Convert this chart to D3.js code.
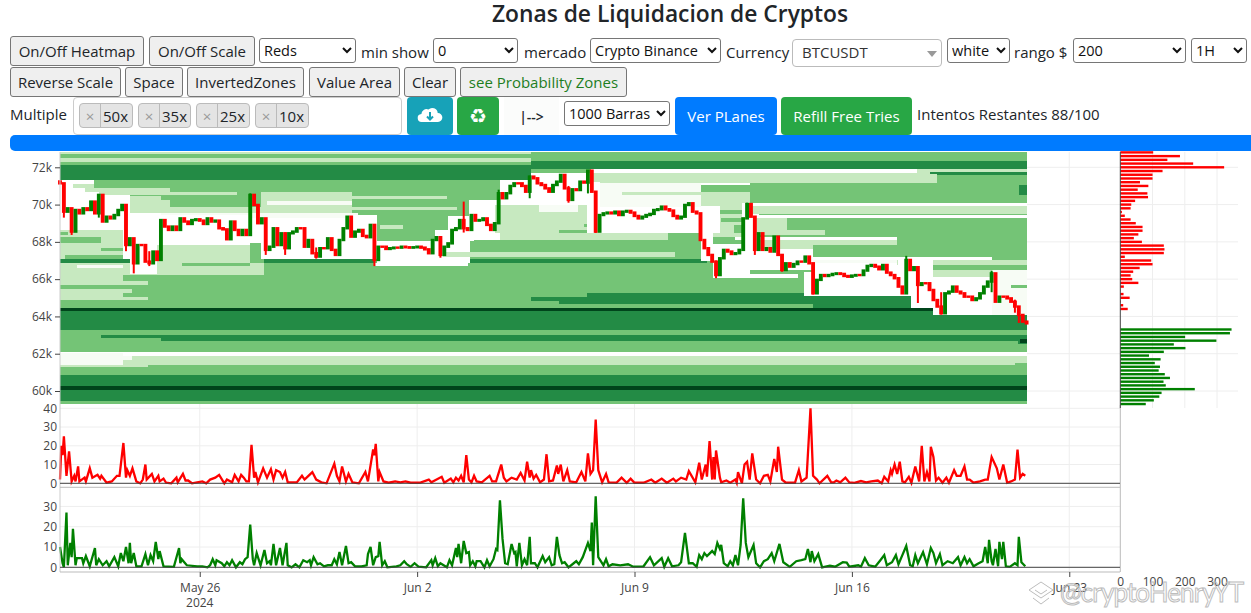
<!DOCTYPE html>
<html>
<head>
<meta charset="utf-8">
<title>Zonas de Liquidacion de Cryptos</title>
<script src="https://cdn.jsdelivr.net/npm/d3@7.9.0/dist/d3.min.js"></script>
<style>
  html, body { margin: 0; width: 1251px; height: 613px; overflow: hidden; background: #fff; }
  body { font-family: "Open Sans", sans-serif; font-size: 15px; color: #212529; }
  .a { position: absolute; box-sizing: border-box; white-space: nowrap; }
  h1 { position: absolute; left: 0; top: -1px; width: 1340px; margin: 0; text-align: center; font-size: 22.8px; line-height: 30px; font-weight: 600; }
  button.a { background: #efefef; border: 1px solid #767676; border-radius: 3px; padding: 0; font: 15px "Open Sans", sans-serif; color: #212529; }
  select.a { background: #fff; border: 1px solid #767676; border-radius: 3px; padding: 0; font: 14.500px "Open Sans", sans-serif; color: #111; }
  .lbl { line-height: 24px; }
  .solid { border: 0 !important; border-radius: 4px !important; color: #fff !important; }
  .tag { background: #e4e4e4; border: 1px solid #bbb; border-radius: 4px; height: 25px; line-height: 24px; font-size: 15px; }
  .tag i { position: absolute; left: 0; top: 0; width: 20px; height: 23px; border-right: 1px solid #bbb; text-align: center; font-style: normal; color: #999; }
  .tag b { position: absolute; left: 23px; top: 0; font-weight: 400; }
  svg { position: absolute; left: 0; top: 0; }
  svg text { font-family: "Open Sans", sans-serif; }
</style>
</head>
<body>
<h1>Zonas de Liquidacion de Cryptos</h1>

<button class="a" style="left:10px;top:36px;width:134px;height:30px">On/Off Heatmap</button>
<button class="a" style="left:149px;top:36px;width:106px;height:30px">On/Off Scale</button>
<select class="a" style="left:259px;top:38px;width:97px;height:25px"><option>Reds</option></select>
<span class="a lbl" style="left:361px;top:40px">min show</span>
<select class="a" style="left:433px;top:38px;width:85px;height:25px"><option>0</option></select>
<span class="a lbl" style="left:524px;top:40px">mercado</span>
<select class="a" style="left:590px;top:38px;width:131px;height:25px"><option>Crypto Binance</option></select>
<span class="a lbl" style="left:726px;top:40px">Currency</span>
<div class="a" style="left:792px;top:39px;width:150px;height:28px;border:1px solid #bbb;border-radius:4px;padding:2px 0 0 9px;color:#333">BTCUSDT
  <span class="a" style="left:134px;top:11px;border:5px solid transparent;border-top:6px solid #999"></span></div>
<select class="a" style="left:947px;top:38px;width:63px;height:25px"><option>white</option></select>
<span class="a lbl" style="left:1014px;top:40px">rango $</span>
<select class="a" style="left:1073px;top:38px;width:113px;height:25px"><option>200</option></select>
<select class="a" style="left:1191px;top:38px;width:56px;height:25px"><option>1H</option></select>

<button class="a" style="left:10px;top:67px;width:111px;height:30px">Reverse Scale</button>
<button class="a" style="left:125px;top:67px;width:58px;height:30px">Space</button>
<button class="a" style="left:187px;top:67px;width:117px;height:30px">InvertedZones</button>
<button class="a" style="left:309px;top:67px;width:91px;height:30px">Value Area</button>
<button class="a" style="left:404px;top:67px;width:52px;height:30px">Clear</button>
<button class="a" style="left:460px;top:67px;width:167px;height:30px;color:#1e7e1e">see Probability Zones</button>

<span class="a lbl" style="left:10px;top:102px">Multiple</span>
<div class="a" style="left:73px;top:97px;width:329px;height:38px;border:1px solid #ccc;border-radius:4px;background:#fff"></div>
<div class="a tag" style="left:79px;top:103px;width:54px"><i>×</i><b>50x</b></div>
<div class="a tag" style="left:138px;top:103px;width:53px"><i>×</i><b>35x</b></div>
<div class="a tag" style="left:196px;top:103px;width:54px"><i>×</i><b>25x</b></div>
<div class="a tag" style="left:255px;top:103px;width:54px"><i>×</i><b>10x</b></div>
<button class="a solid" style="left:407px;top:97px;width:46px;height:38px;background:#17a2b8">
  <svg width="46" height="38"><path d="M15 25a4 4 0 0 1-.6-8 5 5 0 0 1 7-4.5 5.5 5.5 0 0 1 9.300 3.500 4.500 4.500 0 0 1 .3 9z" fill="#fff"/><path d="M23 15v7M20 19.500l3 3 3-3" stroke="#17a2b8" stroke-width="2" fill="none"/></svg>
</button>
<button class="a solid" style="left:457px;top:97px;width:42px;height:38px;background:#28a745;font:20px 'DejaVu Sans'">♻</button>
<div class="a" style="left:504px;top:97px;width:55px;height:38px;background:#fbfcfb;text-align:center;line-height:40px;font-weight:600;font-size:14px">|--&gt;</div>
<select class="a" style="left:564px;top:101px;width:106px;height:25px"><option>1000 Barras</option></select>
<button class="a solid" style="left:675px;top:97px;width:102px;height:38px;background:#007bff">Ver PLanes</button>
<button class="a solid" style="left:781px;top:97px;width:131px;height:38px;background:#28a745">Refill Free Tries</button>
<span class="a lbl" style="left:917px;top:102px">Intentos Restantes 88/100</span>

<div class="a" style="left:10px;top:135px;width:1260px;height:16px;background:#007bff;border-radius:5px"></div>

<svg id="chart" width="1251" height="613"></svg>

<script>
// candles are sampled every 3 hours, prices in thousands of USD
const stepHours = 3;
const closes = [
  71.14, 69.62, 69.80, 68.55, 69.71, 69.53, 69.80, 69.71, 70.16, 69.53, 70.52, 69.09, 69.35, 69.26, 69.44, 69.71, 69.98,
  67.83, 68.19, 66.85, 67.83, 67.83, 66.94, 66.85, 67.48, 67.03, 69.17, 68.82, 68.64, 68.82, 68.64, 69.26, 69.09, 68.96,
  69.17, 69.21, 69.14, 68.96, 69.26, 69.09, 69.14, 68.73, 68.67, 68.14, 69.09, 68.64, 68.37, 68.64, 68.37, 70.52, 69.98,
  69.00, 69.26, 67.57, 67.74, 68.73, 67.83, 68.46, 67.66, 68.46, 68.55, 68.73, 68.73, 67.74, 68.10, 67.39, 67.21, 67.66,
  67.66, 68.19, 67.57, 67.30, 68.10, 68.73, 69.35, 68.28, 68.55, 68.64, 68.32, 68.25, 68.91, 67.03, 67.74, 67.74, 67.62,
  67.66, 67.69, 67.69, 67.74, 67.71, 67.69, 67.71, 67.74, 67.69, 67.60, 67.39, 68.10, 68.25, 67.30, 67.74, 67.92, 68.64,
  68.73, 69.17, 68.73, 68.64, 69.44, 69.14, 69.17, 69.26, 68.91, 68.64, 69.00, 70.61, 70.34, 70.61, 71.00, 71.14, 71.14,
  71.00, 70.69, 71.50, 71.41, 71.14, 71.05, 70.87, 70.69, 71.05, 71.23, 71.59, 70.87, 70.25, 70.82, 70.78, 71.23, 71.18,
  71.82, 70.69, 68.55, 69.44, 69.53, 69.57, 69.53, 69.62, 69.44, 69.62, 69.66, 69.57, 69.39, 69.26, 69.35, 69.44, 69.50,
  69.71, 69.75, 69.89, 69.75, 69.68, 69.39, 69.26, 69.35, 69.98, 70.07, 69.62, 69.53, 68.10, 67.66, 67.30, 66.94, 66.22,
  67.12, 67.57, 67.48, 67.35, 67.39, 67.57, 69.26, 70.03, 69.35, 67.57, 68.46, 67.57, 67.66, 67.48, 68.28, 67.30, 66.49,
  66.85, 66.67, 66.81, 66.94, 66.94, 67.21, 66.85, 65.24, 65.96, 66.22, 66.17, 66.22, 66.28, 66.31, 66.28, 66.17, 66.13,
  66.19, 66.22, 66.22, 66.46, 66.71, 66.76, 66.67, 66.53, 66.76, 66.35, 66.22, 66.05, 65.60, 65.24, 67.03, 66.49, 66.64,
  65.69, 65.78, 65.78, 65.42, 64.88, 64.53, 64.17, 65.24, 65.33, 65.60, 65.33, 65.24, 65.06, 65.06, 64.88, 64.97, 65.24,
  65.60, 65.87, 66.31, 64.79, 65.06, 65.06, 64.97, 64.79, 64.53, 64.08, 63.72, 63.63
];
// [candle index, low, high] where the wick sticks out of the body
const wicks = [
  [1, 69.3, 70.0], [3, 68.37, 69.8], [10, 69.3, 70.57], [17, 67.5, 69.0], [19, 66.31, 67.9], [23, 66.7, 67.5], [26, 68.8, 69.2],
  [49, 68.4, 70.6], [53, 67.3, 68.3], [58, 67.3, 68.5], [66, 67.1, 67.7], [81, 66.7, 68.0], [98, 67.15, 68.3], [104, 68.5, 70.16],
  [113, 69.7, 70.8], [121, 70.34, 71.55], [131, 70.1, 71.0], [136, 70.6, 71.85], [138, 68.48, 69.8], [169, 66.05, 67.0],
  [177, 69.3, 70.1], [179, 67.3, 68.6], [186, 66.4, 67.2], [194, 65.18, 66.2], [218, 65.4, 67.25], [221, 64.72, 66.6],
  [227, 64.1, 65.3], [240, 65.3, 66.45], [246, 64.2, 64.9], [247, 63.65, 64.5]
];

// [hour, BTC]
const sellVolume = [
  [0,2],[1,20],[2,15],[3,25],[5,4],[7,17],[9,1],[11,4],[12,1],[14,9],[15,1],[19,3],[20,1],[23,8],[25,3],[29,4.5],[31,2.5],[32,4],[36,.3],[40,1],
  [44,4],[46,4],[49,21.5],[51,3],[52,7],[54,4],[56,8],[59,1],[62,0],[64,2],[66,10],[67,2],[71,5],[73,1],[76,4],[77,1],[80,2.5],[82,.3],[86,0],[90,3],
  [91,.5],[95,5],[97,1.5],[99,1.5],[102,0],[106,.5],[110,1],[113,0],[116,2],[120,3],[123,4.5],[127,0],[129,2],[133,.5],[135,4.5],[138,1],[140,4.5],[142,3],[144,1],[146,1],
  [148,20.5],[150,3],[151,6],[153,.5],[157,8],[160,3],[163,7.5],[165,2],[167,7],[170,6],[172,3],[174,6],[176,.5],[183,.5],[187,4],[189,2],[192,4],[195,6],[198,2],[202,.5],
  [206,0],[212,10.5],[214,4],[216,1],[218,9],[221,1],[223,5],[226,.5],[231,0],[236,6],[238,1],[242,18],[243,15],[244,21],[246,1],[247,6],[250,1],[254,.3],[259,1],[263,.5],
  [267,1],[271,.3],[278,.3],[285,2],[287,.5],[295,3.5],[297,.3],[302,2.5],[304,.5],[306,3],[308,1.5],[310,4],[312,.5],[314,15],[316,2],[318,.5],[320,4],[322,1],[326,.5],[332,4],
  [334,1],[337,1],[341,10],[343,3],[345,1],[349,3],[353,2],[356,5.5],[359,1.5],[361,11.5],[363,3],[364,7],[366,2.5],[368,4.5],[371,.5],[374,2],[376,15.5],[378,1],[381,1.5],[384,9.5],
  [385,5],[387,10],[389,1],[392,7],[394,1],[399,.5],[403,6],[406,1],[408,16],[410,5],[412,7],[414,34],[416,7],[419,.5],[422,5],[424,.5],[430,.3],[434,3],[438,.3],[441,2.5],
  [444,.3],[451,.3],[457,2],[460,.3],[465,2.5],[469,.3],[474,2.5],[476,1],[480,3],[484,2],[486,6.5],[491,.5],[494,11],[496,2],[499,10],[500,3.5],[502,22.5],[504,2],[505,14],[506,2],
  [507,17.5],[510,3],[511,.5],[515,1.5],[518,.3],[522,2],[523,.3],[524,6],[527,0],[529,10],[531,11.5],[533,2],[535,16],[538,2],[541,0],[544,4],[547,4.5],[549,1],[552,13],[554,6],
  [555,19.5],[558,2],[561,.3],[568,.3],[571,7],[573,1],[577,3],[580,40],[582,4],[585,2],[587,0],[593,4],[596,.5],[598,.5],[600,1.5],[603,.5],[607,3],[610,.5],[614,.2],[619,1.2],
  [623,.5],[627,1],[632,1.5],[635,0],[637,3.5],[640,1],[642,7],[643,5],[645,10],[647,5],[649,11.5],[651,1],[653,.5],[656,3.5],[658,.3],[661,9],[664,1],[666,20],[668,1],[670,6],
  [672,1],[673,19.5],[675,14],[677,1.5],[679,3],[682,.3],[685,3],[687,.3],[691,7],[693,4],[696,4],[699,9],[701,2],[703,2],[706,.3],[711,1],[715,2],[717,2],[720,14],[724,8],
  [726,2],[729,10],[732,.3],[735,1],[738,2],[740,18],[742,3],[744,5],[746,4]
];
const buyVolume = [
  [0,10],[2,2],[3,0],[5,27],[6,1],[8,12],[9,5],[10,19],[12,1],[13,4.5],[17,4.5],[18,2],[20,5.5],[23,.5],[27,9.5],[28,1],[30,4],[33,1],[36,3],[38,.5],
  [42,5],[45,.5],[47,7],[49,3],[51,10],[53,2],[54,12],[55,2],[57,7],[59,.5],[63,.5],[66,6.5],[68,1],[70,6],[72,3],[74,12.5],[76,4],[77,8],[80,.5],[88,.2],
  [92,9.5],[93,2],[94,4],[98,1],[106,.5],[110,.5],[114,0],[116,1],[118,4],[120,1],[121,3.5],[125,2],[127,.5],[129,2.5],[131,1],[133,3.5],[136,0],[139,2.5],[141,1.5],[143,4],
  [145,5],[147,21],[149,4],[150,1],[152,7],[155,1],[158,8.5],[160,2],[162,3],[163,1],[165,11.5],[167,1],[170,9.5],[172,1],[175,12],[176,1],[179,0],[182,1.5],[185,0],[188,3.5],
  [191,2.5],[193,3.5],[194,1],[196,5],[199,1.5],[201,2],[204,.5],[207,1],[210,1],[212,4],[214,1.5],[216,7.5],[218,1],[221,10.5],[223,2],[225,2.5],[228,.5],[233,.5],[237,1],[238,6.5],
  [240,10],[242,1],[244,5],[246,5.5],[247,12.5],[249,1],[251,3],[253,0],[260,.5],[263,1],[266,3],[268,1.5],[271,.2],[274,2],[277,.3],[283,0],[287,3.5],[288,1],[290,4.5],[292,.5],
  [294,2],[299,0],[301,3.5],[303,1],[306,9.5],[307,5],[308,11.5],[310,2],[312,13],[314,7],[316,7.5],[317,1],[319,3],[321,.5],[322,3],[325,3],[328,0],[330,3.500],[332,.5],[335,4],
  [337,9],[338,8.5],[340,33],[342,14],[344,2],[346,1.5],[349,11.5],[351,7],[352,7.5],[353,.5],[355,12],[357,1],[359,4],[361,1],[363,15],[364,2],[367,2],[369,0],[373,5.5],[375,2.5],
  [378,5],[380,1],[382,1.5],[384,15],[386,6],[388,2],[390,2.5],[393,0],[397,2],[399,3],[401,1.5],[404,5],[408,12],[410,8],[411,22],[412,1],[414,35],[416,5],[420,1],[422,4],
  [424,.5],[427,1.5],[433,1],[439,1.5],[443,.3],[451,.5],[456,5],[459,1],[465,4.5],[467,.3],[470,4.5],[473,.5],[478,1],[480,2.5],[483,17],[486,2],[489,2],[492,.2],[494,6],[496,4],
  [498,7],[500,5.5],[504,8],[506,6.5],[508,12],[510,9],[511,11],[513,2],[516,.5],[518,3],[520,1],[522,6],[524,1],[526,11],[528,34],[530,12],[532,5],[536,11],[538,2],[541,0],
  [544,3],[547,4],[550,7],[552,3],[556,11.5],[559,2.5],[564,.2],[569,3],[573,3.5],[576,4],[578,9],[580,2.5],[581,8],[583,3],[586,6.5],[589,0],[595,.8],[599,.3],[605,2.5],[608,2.3],
  [610,.3],[617,1],[619,.3],[622,4.5],[625,1],[630,.3],[634,3.5],[637,6],[639,1],[643,2.5],[646,6],[648,1.5],[651,6],[654,10.5],[657,1],[659,.5],[661,6],[663,2],[667,7.5],[670,1.5],
  [673,9.5],[675,7],[677,2],[680,6.5],[682,1],[686,3],[690,2],[694,5],[696,1],[699,5],[701,2],[703,4],[706,.5],[710,2],[713,3],[715,10],[717,2],[718,13.5],[720,3],[721,1],
  [723,9],[725,.5],[726,12.5],[728,4],[729,12.5],[731,.5],[734,.2],[738,2],[740,1],[741,15],[743,2.500],[746,.5]
];

// liquidations per 200 USD price level, right hand histogram
const shortLevels = d3.range(72.8, 64.3, -0.2);
const shortTotals = [102, 185, 146, 226, 322, 131, 100, 100, 61, 87, 54, 84, 86, 46, 34, 32, 5, 14, 32, 48, 69, 69, 56, 42, 67, 135, 137, 135, 14, 96, 100, 60, 40, 32, 37, 56, 11, 1, 10, 29, 2, 9, 23];
const longLevels = d3.range(63.3, 59.2, -0.2);
const longTotals = [345, 340, 201, 298, 166, 202, 135, 89, 125, 107, 123, 119, 138, 154, 134, 141, 231, 128, 121, 104, 79];

// heatmap zones in paint order: [top price, bottom price, first hour, last hour, level]
const zoneColors = ['#ffffff', '#f7fcf5', '#c7e9c0', '#74c476', '#238b45', '#00441b'];
const zones = [
  [72.82,59.30,0,747,3],
  [72.82,72.71,0,364,2],[72.50,72.29,0,364,2],[72.12,71.32,0,364,4],[72.34,71.91,364,747,4],
  [71.91,71.70,410,662,0],[71.91,71.70,662,747,2],[71.70,71.16,407,678,2],[71.75,71.59,672,747,4],[71.16,71.05,407,533,0],
  [71.05,70.52,741,747,4],
  [71.32,70.89,0,26,0],[71.10,70.89,10,26,2],[70.89,68.64,0,54,0],[70.89,70.68,19,85,2],[70.68,70.52,30,137,2],
  [70.46,69.87,54,78,2],[70.25,69.87,54,85,2],[69.87,69.55,54,194,2],[69.55,66.87,54,78,0],
  [70.68,69.55,155,226,2],[70.20,69.98,160,226,1],[69.55,69.28,137,230,1],[69.55,69.44,78,137,1],[69.44,67.83,78,147,0],[67.83,66.87,75,147,2],
  [69.30,67.92,147,158,0],[69.30,67.08,155,243,0],
  [68.64,67.08,0,49,2],[68.55,68.37,0,6,3],[68.26,67.94,0,32,3],[67.67,67.49,32,49,3],[67.30,67.08,4,53,3],[68.64,67.08,49,54,0],
  [67.08,66.87,0,54,4],[67.08,66.87,158,243,4],[67.08,66.87,315,500,4],
  [66.87,66.22,0,158,2],[66.87,66.28,54,75,0],[66.85,66.71,94,147,3],[66.76,66.58,13,49,1],[66.87,66.70,243,315,0],
  [66.28,65.90,0,49,2],[65.90,65.69,0,68,2],[65.48,65.26,0,56,2],[65.26,65.04,0,49,2],[65.04,64.88,0,68,2],
  [70.46,70.30,222,299,2],[69.87,69.71,222,307,2],[69.44,67.08,226,245,0],[68.06,66.87,245,317,0],[68.90,68.70,247,265,2],
  [68.64,68.06,290,320,0],[69.40,68.40,300,320,0],[70.25,68.10,316,340,0],[71.32,69.98,340,364,0],[71.70,69.98,364,410,0],
  [69.98,68.48,336,425,2],[69.98,69.60,370,400,1],[68.64,68.40,386,410,3],[68.95,68.80,405,420,3],[68.48,68.10,340,470,2],[67.47,67.20,296,475,2],
  [71.16,69.87,407,495,1],[71.64,71.21,417,678,2],[70.68,70.52,434,533,2],[69.87,68.48,414,495,0],[71.20,68.48,407,417,0],
  [70.68,68.26,495,533,2],[69.71,69.50,504,533,3],[69.26,69.09,511,533,3],[68.91,68.48,521,533,3],[69.90,68.50,495,510,0],[68.50,67.00,495,505,0],[67.90,66.06,505,570,0],[70.10,67.00,527,540,0],
  [70.09,69.93,533,747,0],[69.93,69.50,533,747,2],[69.44,69.28,536,747,0],[69.28,68.64,536,562,2],[68.64,68.37,536,591,2],
  [68.26,68.10,522,647,0],[68.10,67.83,541,647,2],[67.83,67.60,541,582,2],[67.60,66.40,555,582,0],[66.49,66.28,533,585,3],
  [65.26,64.67,407,658,4],[65.04,64.67,386,407,4],[65.04,64.83,364,386,4],[64.67,64.45,582,675,4],
  [64.45,64.29,0,675,5],[64.29,63.27,0,747,4],[63.27,63.00,0,5,3],
  [66.40,65.10,575,590,0],[66.87,65.10,582,650,0],[67.19,67.03,582,720,0],[67.03,66.87,582,650,1],[67.03,66.76,647,747,2],[66.76,66.49,678,747,3],[66.49,65.90,658,720,2],
  [67.03,65.10,648,675,0],[65.10,64.45,658,675,0],[66.10,64.08,675,747,0],[66.50,64.08,720,747,1],[65.70,65.50,735,747,3],
  [63.00,62.84,32,747,4],[62.84,62.68,78,747,4],[62.84,62.50,740,747,4],[62.78,62.60,742,747,5],
  [62.09,61.88,0,747,0],[62.04,61.39,0,49,1],[61.88,61.39,56,747,2],[61.88,61.65,49,56,1],[61.65,61.39,49,56,2],[61.39,61.29,0,68,2],[61.50,61.29,738,747,3],
  [60.86,60.27,0,747,4],[60.27,60.05,0,747,5],[60.05,59.46,0,747,4]
];

const priceTicks = [60, 62, 64, 66, 68, 70, 72];
const sellTicks = [0, 10, 20, 30, 40];
const buyTicks = [0, 10, 20, 30];
const histTicks = [0, 100, 200, 300];
const dateTicks = ['2024-05-26', '2024-06-02', '2024-06-09', '2024-06-16', '2024-06-23'].map((d) => new Date(d + 'T00:00Z'));

const startTime = Date.UTC(2024, 4, 21, 12);
const atHour = (h) => new Date(startTime + h * 3600e3);

const x = d3.scaleUtc().domain([atHour(0), atHour(819.2)]).range([60, 1120]);
const y = d3.scaleLinear().domain([60, 72]).range([391, 167.3]);
const ySell = d3.scaleLinear().domain([0, 40]).range([483.3, 408.3]);
const yBuy = d3.scaleLinear().domain([0, 30]).range([567.3, 506.4]);
const xHist = d3.scaleLinear().domain([0, 365]).range([1120.3, 1238]);
const xh = (h) => x(atHour(h));

const svg = d3.select('#chart');

// grid goes underneath everything
const grid = svg.append('g').attr('stroke', '#eee').attr('stroke-width', 1);
priceTicks.forEach((t) => grid.append('line').attr('x1', 60).attr('x2', 1238).attr('y1', y(t)).attr('y2', y(t)));
sellTicks.forEach((t) => grid.append('line').attr('x1', 60).attr('x2', 1120).attr('y1', ySell(t)).attr('y2', ySell(t)));
buyTicks.forEach((t) => grid.append('line').attr('x1', 60).attr('x2', 1120).attr('y1', yBuy(t)).attr('y2', yBuy(t)));
dateTicks.forEach((t) => grid.append('line').attr('x1', x(t)).attr('x2', x(t)).attr('y1', 152).attr('y2', 572));
histTicks.slice(1).forEach((t) => grid.append('line').attr('x1', xHist(t)).attr('x2', xHist(t)).attr('y1', 152).attr('y2', 408));

// heatmap
svg.append('g').attr('shape-rendering', 'crispEdges')
  .selectAll('rect').data(zones).join('rect')
  .attr('x', (d) => xh(d[2]))
  .attr('width', (d) => xh(d[3]) - xh(d[2]))
  .attr('y', (d) => y(d[0]))
  .attr('height', (d) => y(d[1]) - y(d[0]))
  .attr('fill', (d) => zoneColors[d[4]]);

// candles, bodies touch each other so they read as one thick zigzag
const candleColor = (i) => (i > 0 && closes[i] > closes[i - 1] ? '#008000' : '#ff0000');
svg.append('g').selectAll('line').data(wicks).join('line')
  .attr('x1', (d) => xh(d[0] * stepHours)).attr('x2', (d) => xh(d[0] * stepHours))
  .attr('y1', (d) => y(d[1])).attr('y2', (d) => y(d[2]))
  .attr('stroke', (d) => candleColor(d[0])).attr('stroke-width', 2);
const candleWidth = xh(stepHours) - xh(0);
svg.append('g').selectAll('rect').data(closes).join('rect')
  .attr('x', (d, i) => xh(i * stepHours) - candleWidth / 2)
  .attr('width', candleWidth)
  .attr('y', (d, i) => y(Math.max(d, i ? closes[i - 1] : d + 0.1)) - 1.2)
  .attr('height', (d, i) => Math.abs(y(d) - y(i ? closes[i - 1] : d + 0.1)) + 2.4)
  .attr('fill', (d, i) => candleColor(i));

// volume panels
const lineOf = (scale) => d3.line().x((d) => xh(d[0])).y((d) => scale(d[1]));
svg.append('path').attr('d', lineOf(ySell)(sellVolume)).attr('fill', 'none').attr('stroke', '#ff0000').attr('stroke-width', 2.3);
svg.append('path').attr('d', lineOf(yBuy)(buyVolume)).attr('fill', 'none').attr('stroke', '#008000').attr('stroke-width', 2.3);

// histogram
const histBars = (levels, totals, color) => svg.append('g').selectAll('rect').data(totals).join('rect')
  .attr('x', xHist(0))
  .attr('y', (d, i) => y(levels[i]) - 1.2)
  .attr('width', (d) => xHist(d) - xHist(0))
  .attr('height', 2.4)
  .attr('fill', color);
histBars(shortLevels, shortTotals, '#ff0000');
histBars(longLevels, longTotals, '#008000');

// frame and zero lines
const frame = [
  [60, 152, 60, 572, '#ccc'], [60, 572, 1120, 572, '#bbb'], [1120.3, 405, 1120.3, 572, '#bbb'], [60, 487.3, 1120, 487.3, '#bbb'],
  [60, ySell(0), 1120, ySell(0), '#444'], [60, yBuy(0), 1120, yBuy(0), '#444'], [1120.3, 152, 1120.3, 408, '#444']
];
svg.append('g').selectAll('line').data(frame).join('line')
  .attr('x1', (d) => d[0]).attr('y1', (d) => d[1]).attr('x2', (d) => d[2]).attr('y2', (d) => d[3])
  .attr('stroke', (d) => d[4]).attr('stroke-width', 1);

// axes
function styleAxis(g) {
  g.select('.domain').remove();
  g.selectAll('.tick line').attr('stroke', '#444');
  g.selectAll('.tick text').attr('fill', '#444').style('font-size', '12px').style('font-family', '"Open Sans", sans-serif');
}
svg.append('g').attr('transform', 'translate(60,0)')
  .call(d3.axisLeft(y).tickValues(priceTicks).tickFormat((d) => d + 'k').tickSize(5).tickPadding(3)).call(styleAxis);
svg.append('g').attr('transform', 'translate(60,0)')
  .call(d3.axisLeft(ySell).tickValues(sellTicks).tickSize(0).tickPadding(3)).call(styleAxis);
svg.append('g').attr('transform', 'translate(60,0)')
  .call(d3.axisLeft(yBuy).tickValues(buyTicks).tickSize(0).tickPadding(3)).call(styleAxis);
svg.append('g').attr('transform', 'translate(0,572)')
  .call(d3.axisBottom(x).tickValues(dateTicks).tickFormat(d3.utcFormat('%b %-d')).tickSize(5).tickPadding(6)).call(styleAxis);
svg.append('g').attr('transform', 'translate(0,572)')
  .call(d3.axisBottom(xHist).tickValues(histTicks).tickSize(0).tickPadding(5)).call(styleAxis);
svg.append('text').attr('x', x(dateTicks[0])).attr('y', 607).attr('text-anchor', 'middle')
  .attr('fill', '#444').style('font-size', '12px').text('2024');

// watermark sits over the last axis labels
const mark = svg.append('g').attr('fill', 'none').attr('stroke', '#bdbdbd').attr('stroke-width', 1);
mark.append('path').attr('d', 'M1029 590l12-8 12 8-12 8zM1035 590l6 4 6-4M1033 598l8 6 8-6');
mark.append('text').attr('x', 1060).attr('y', 602).style('font-size', '26px').style('font-family', 'Lato, sans-serif').attr('textLength', 184)
  .text('@cryptoHenryYT');
</script>
</body>
</html>
